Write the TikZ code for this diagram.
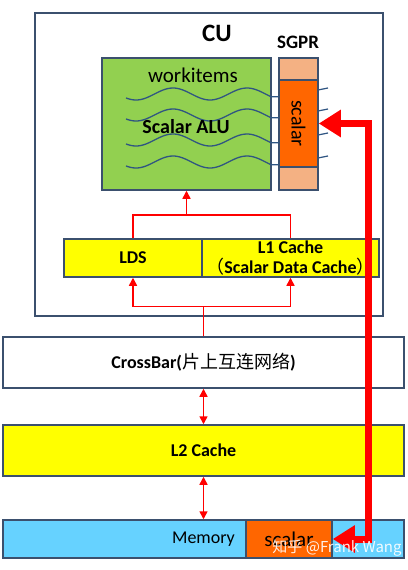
\documentclass[tikz,border=0pt]{standalone}
\usepackage{fontspec}
\setmainfont{Carlito}
\newfontfamily\cjk{Noto Sans CJK SC}
\usetikzlibrary{arrows.meta, positioning, calc}
\definecolor{edgeBlue}{RGB}{59, 80, 110}
\definecolor{aluGreen}{RGB}{146, 208, 80}
\definecolor{regPeach}{RGB}{244, 177, 131}
\definecolor{regOrange}{RGB}{255, 102, 0}
\definecolor{cacheYellow}{RGB}{255, 255, 0}
\definecolor{memBlue}{RGB}{102, 210, 255}
\definecolor{waveBlue}{RGB}{47, 85, 130}
\definecolor{arrowRed}{RGB}{255, 0, 0}
\tikzset{
    box/.style={draw=edgeBlue, line width=1.5pt, inner sep=0pt},
    boxtext/.style={font=\bfseries\fontsize{18}{21}\selectfont},
    redline/.style={draw=arrowRed, line width=1.5pt},
    redarrow/.style={redline, -{Triangle[length=8pt,width=8pt]}},
    twoway/.style={redline, {Triangle[length=8pt,width=8pt]}-{Triangle[length=8pt,width=8pt]}},
    bigarrow/.style={draw=arrowRed, line width=7pt,
        {Triangle[length=22pt,width=26pt]}-{Triangle[length=22pt,width=26pt]}}
}

\begin{document}
\begin{tikzpicture}[x=1pt, y=-1pt]
    \useasboundingbox (0,0) rectangle (407,570);

    % Compute unit
    \node[box, minimum width=348pt, minimum height=303pt] (cu) at (209,164.5) {};
    \node[font=\bfseries\fontsize{25}{30}\selectfont] (culabel) at (217,33) {CU};
    \node[font=\bfseries\fontsize{19}{22}\selectfont] (sgprlabel) at (298,42) {SGPR};

    % ALU and scalar registers
    \node[box, fill=aluGreen, minimum width=169pt, minimum height=132pt] (alu) at (186.5,124) {};
    \node[box, fill=regPeach, minimum width=39pt, minimum height=132pt] (sgpr) at (298.5,124) {};
    \node[box, fill=regOrange, minimum width=39pt, minimum height=87pt,
          font=\fontsize{20}{24}\selectfont] (sgprscalar) at (298.5,123.5) {\rotatebox{-90}{scalar}};
    \node[font=\fontsize{21}{24}\selectfont] (workitems) at (193,75) {workitems};

    % Wavy workitems
    \foreach \yc in {94,115,140,162}
        \draw[waveBlue, line width=1.3pt] plot[domain=126:271, samples=60, smooth]
            (\x,{\yc+6*cos((\x-136)*4.865)}) -- ++(8,0);
    \foreach \yt in {89,110,134,157}
        \draw[waveBlue, line width=1.2pt] (318,\yt+1) -- (328,\yt-1);

    \node[font=\bfseries\fontsize{20}{24}\selectfont] (alulabel) at (186,127) {Scalar ALU};

    % Local memories
    \node[box, fill=cacheYellow, boxtext, minimum width=138pt, minimum height=38pt] (lds) at (133,258) {LDS};
    \node[box, fill=cacheYellow, boxtext, minimum width=177pt, minimum height=38pt,
          align=center] (l1) at (290.5,258)
        {L1 Cache\\[-1pt]{\cjk\mdseries （}Scalar Data Cache{\cjk\mdseries ）}};

    % Shared levels
    \node[box, fill=white, boxtext, minimum width=401pt, minimum height=51pt] (crossbar) at (203.5,362.5)
        {CrossBar({\cjk\mdseries 片上互连网络})};
    \node[box, fill=cacheYellow, boxtext, minimum width=401pt, minimum height=51pt] (l2) at (203.5,450.5) {L2 Cache};
    \node[box, fill=memBlue, minimum width=401pt, minimum height=38pt,
          font=\fontsize{18}{21}\selectfont] (mem) at (203.5,539) {Memory};
    \node[box, fill=regOrange, minimum width=86pt, minimum height=38pt,
          font=\fontsize{21}{25}\selectfont] (memscalar) at (289,539) {scalar};

    % Thin red data paths
    \coordinate (upjoin) at ($(alu.south)+(0,24)$);
    \coordinate (downjoin) at ($(crossbar.north)+(0,-30)$);
    \draw[redline] (lds.north) |- (upjoin) -| (l1.north);
    \draw[redarrow] (upjoin) -- (alu.south);
    \draw[redarrow] (crossbar.north) -- (downjoin) -| (lds.south);
    \draw[redarrow] (downjoin) -| (l1.south);
    \draw[twoway] (crossbar.south) -- (l2.north);
    \draw[twoway] (l2.south) -- (mem.north);

    % Scalar load path
    \draw[bigarrow, line join=miter] (sgprscalar.east) -- ++(50,0) |- (memscalar.east);

    \node[text=white, text opacity=0.9, font=\cjk\fontsize{15}{18}\selectfont] (mark) at (337,548) {知乎 @Frank Wang};
\end{tikzpicture}
\end{document}
